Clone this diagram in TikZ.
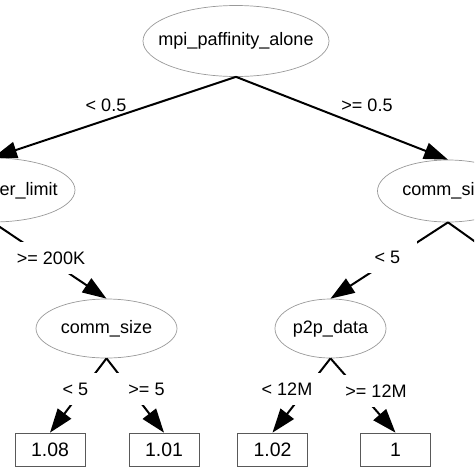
\documentclass[tikz,border=0pt]{standalone}
\usepackage{fontspec}
\setmainfont{Liberation Sans}
\usetikzlibrary{shapes.geometric,arrows.meta}
\tikzset{
	var/.style={ellipse,draw=gray!80,line width=0.6pt,inner sep=0pt},
	leaf/.style={rectangle,draw=black!65,line width=0.6pt,minimum width=2.1cm,minimum height=0.99cm,inner sep=0pt,font=\fontsize{16.6}{19}\selectfont},
	cut/.style={fill=white,inner xsep=0.5cm,minimum height=0.96cm},
	edge/.style={line width=1.7pt,-{Triangle[length=0.72cm,width=0.5cm]}},
}
\newcommand{\nm}[1]{\makebox[0pt]{#1}}

\begin{document}
\begin{tikzpicture}[x=0.03cm,y=-0.03cm,font=\fontsize{15.4}{18}\selectfont]
		\useasboundingbox (0,0) rectangle (474,474);
		\clip (0,0) rectangle (474,474);
		\node[var,minimum width=5.58cm,minimum height=2.13cm] (root) at (236,41) {\nm{mpi\_paffinity\_alone}};
		\node[var,minimum width=4.92cm,minimum height=1.92cm] (lim) at (-7,190) {};
		\node[anchor=east,inner sep=0pt] (limtxt) at (58,191) {er\_limit};
		\node[var,minimum width=4.23cm,minimum height=1.86cm] (csr) at (448,191) {\nm{comm\_size}};
		\node[var,minimum width=4.23cm,minimum height=1.77cm] (csl) at (106.5,328.5) {\nm{comm\_size}};
		\node[var,minimum width=3.33cm,minimum height=1.77cm] (p2p) at (330.5,328.5) {\nm{p2p\_data}};
		\node[leaf] (v1) at (50,449.5) {1.08};
		\node[leaf] (v2) at (164,449.5) {1.01};
		\node[leaf] (v3) at (272.5,449.5) {1.02};
		\node[leaf] (v4) at (395.5,449.5) {1};
		\coordinate (offr) at (540,288);
		\draw[edge] (root.south) -- (lim.north);
		\draw[edge] (root.south) -- (csr.north);
		\draw[edge] (lim.south) -- (csl.north);
		\draw[edge] (csr.south) -- (p2p.north);
		\draw[line width=1.7pt] (csr.south) -- (offr);
		\draw[edge] (csl.south) -- (v1.north);
		\draw[edge] (csl.south) -- (v2.north);
		\draw[edge] (p2p.south) -- (v3.north);
		\draw[edge] (p2p.south) -- (v4.north);
		
		\node (l1) at (106,105) {< 0.5};
		\node (l2) at (367,105) {>= 0.5};
		\node[cut] (l3) at (51,258) {>= 200K};
		\node[cut] (l4) at (387.5,257) {< 5};
		\node[cut] (l5) at (75.5,389) {< 5};
		\node[cut] (l6) at (146.5,389) {>= 5};
		\node[cut] (l7) at (287,389) {< 12M};
		\node[cut] (l8) at (376,391) {>= 12M};
\end{tikzpicture}
\end{document}
